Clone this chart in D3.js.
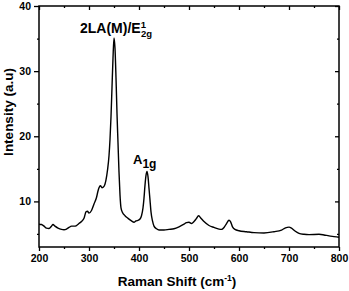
<!DOCTYPE html>
<html>
<head>
<meta charset="utf-8">
<script src="https://cdn.jsdelivr.net/npm/d3@7"></script>
<style>
body { margin: 0; background: #fff; }
text { font-family: "Liberation Sans", Arial, sans-serif; font-weight: bold; fill: #000; }
</style>
</head>
<body>
<script>
// Raman spectrum
var shift = [200,205,210,215,220,225,228,232,238,245,250,255,260,265,270,275,280,285,290,294,297,300,305,310,315,318,320,323,326,330,334,337,340,342,344,346,348,350,352,354,356,358,360,362,364,367,372,378,385,390,394,398,402,405,408,410,412,414,416,418,420,422,424,427,430,435,440,450,460,470,480,490,495,500,505,510,515,519,523,530,540,550,560,565,570,575,580,583,587,592,600,615,630,650,670,685,693,700,705,712,720,730,740,760,770,780,790,800];
var intensity = [6.5,6.45,6.2,5.9,5.85,6.2,6.45,6.2,5.9,5.7,5.65,5.75,6.0,6.2,6.2,6.3,6.6,6.9,7.4,8.4,8.5,8.2,8.6,9.6,10.6,11.6,12.1,12.4,12.1,12.3,13.3,14.8,17,19.5,23,27.5,32,35.1,33.5,29,23.5,19,14.5,11,9,8.3,7.8,7.4,7.0,6.8,7.0,7.1,7.3,7.8,9,10.5,12.5,14,14.6,13.8,12,10.2,8.4,7,6.2,5.8,5.6,5.6,5.7,5.8,6.1,6.5,6.75,6.8,6.6,6.9,7.4,7.8,7.5,6.9,6.3,6.0,5.75,5.7,6.0,6.6,7.1,6.9,6.1,5.7,5.5,5.35,5.2,5.15,5.35,5.6,5.95,6.05,5.9,5.45,5.1,4.95,4.9,4.95,4.85,4.7,4.6,4.5];

var xMajor = [200,300,400,500,600,700,800];
var xMinor = [250,350,450,550,650,750];
var yMajor = [10,20,30,40];
var yMinor = [5,15,25,35];

var width = 349, height = 291;
var mLeft = 39, mRight = 339, mTop = 6, mBottom = 247;

var svg = d3.select("body").append("svg")
    .attr("width", width)
    .attr("height", height);

var x = d3.scaleLinear().domain([200, 800]).range([mLeft, mRight]);
var y = d3.scaleLinear().domain([3, 40]).range([mBottom, mTop]);

function styleAxis(g) {
    g.select(".domain").remove();
    g.selectAll("line").attr("stroke", "#000").attr("stroke-width", 1.3);
    g.selectAll("text").style("font-size", "10.5px");
}

// bottom + left, ticks out
svg.append("g").attr("transform", "translate(0," + mBottom + ")")
    .call(d3.axisBottom(x).tickValues(xMajor).tickSize(4).tickPadding(4).tickFormat(d3.format("d")))
    .call(styleAxis);
svg.append("g").attr("transform", "translate(0," + mBottom + ")")
    .call(d3.axisBottom(x).tickValues(xMinor).tickSize(2).tickFormat(""))
    .call(styleAxis);
svg.append("g").attr("transform", "translate(" + mLeft + ",0)")
    .call(d3.axisLeft(y).tickValues(yMajor).tickSize(5).tickPadding(3))
    .call(styleAxis);
svg.append("g").attr("transform", "translate(" + mLeft + ",0)")
    .call(d3.axisLeft(y).tickValues(yMinor).tickSize(2).tickFormat(""))
    .call(styleAxis);

// top + right, ticks in
svg.append("g").attr("transform", "translate(0," + mTop + ")")
    .call(d3.axisTop(x).tickValues(xMajor).tickSize(-4).tickFormat(""))
    .call(styleAxis);
svg.append("g").attr("transform", "translate(0," + mTop + ")")
    .call(d3.axisTop(x).tickValues(xMinor).tickSize(-2).tickFormat(""))
    .call(styleAxis);
svg.append("g").attr("transform", "translate(" + mRight + ",0)")
    .call(d3.axisRight(y).tickValues(yMajor).tickSize(-4).tickFormat(""))
    .call(styleAxis);
svg.append("g").attr("transform", "translate(" + mRight + ",0)")
    .call(d3.axisRight(y).tickValues(yMinor).tickSize(-2).tickFormat(""))
    .call(styleAxis);

svg.append("rect")
    .attr("x", mLeft).attr("y", mTop)
    .attr("width", mRight - mLeft).attr("height", mBottom - mTop)
    .attr("fill", "none").attr("stroke", "#000").attr("stroke-width", 1.5);

var line = d3.line()
    .x(function(d, i) { return x(shift[i]); })
    .y(function(d) { return y(d); })
    .curve(d3.curveMonotoneX);

svg.append("path")
    .datum(intensity)
    .attr("d", line)
    .attr("fill", "none")
    .attr("stroke", "#000")
    .attr("stroke-width", 1.4);

// axis titles
var xt = svg.append("text")
    .attr("x", 177).attr("y", 286)
    .attr("text-anchor", "middle")
    .style("font-size", "13.5px");
xt.append("tspan").text("Raman Shift (cm");
xt.append("tspan").attr("dy", -5).style("font-size", "8.5px").text("-1");
xt.append("tspan").attr("dy", 5).text(")");

svg.append("text")
    .attr("transform", "translate(13,112) rotate(-90)")
    .attr("text-anchor", "middle")
    .style("font-size", "13.5px")
    .text("Intensity (a.u)");

// peak labels
var p1 = svg.append("text").attr("x", 80).attr("y", 33).style("font-size", "14px");
p1.append("tspan").text("2LA(M)/E");
p1.append("tspan").attr("dy", -5).style("font-size", "9.5px").text("1");
p1.append("tspan").attr("dy", 9).attr("dx", -5).style("font-size", "9.5px").text("2g");

var p2 = svg.append("text").attr("x", 133).attr("y", 164).style("font-size", "13px");
p2.append("tspan").text("A");
p2.append("tspan").attr("dy", 4).style("font-size", "12px").text("1g");
</script>
</body>
</html>
